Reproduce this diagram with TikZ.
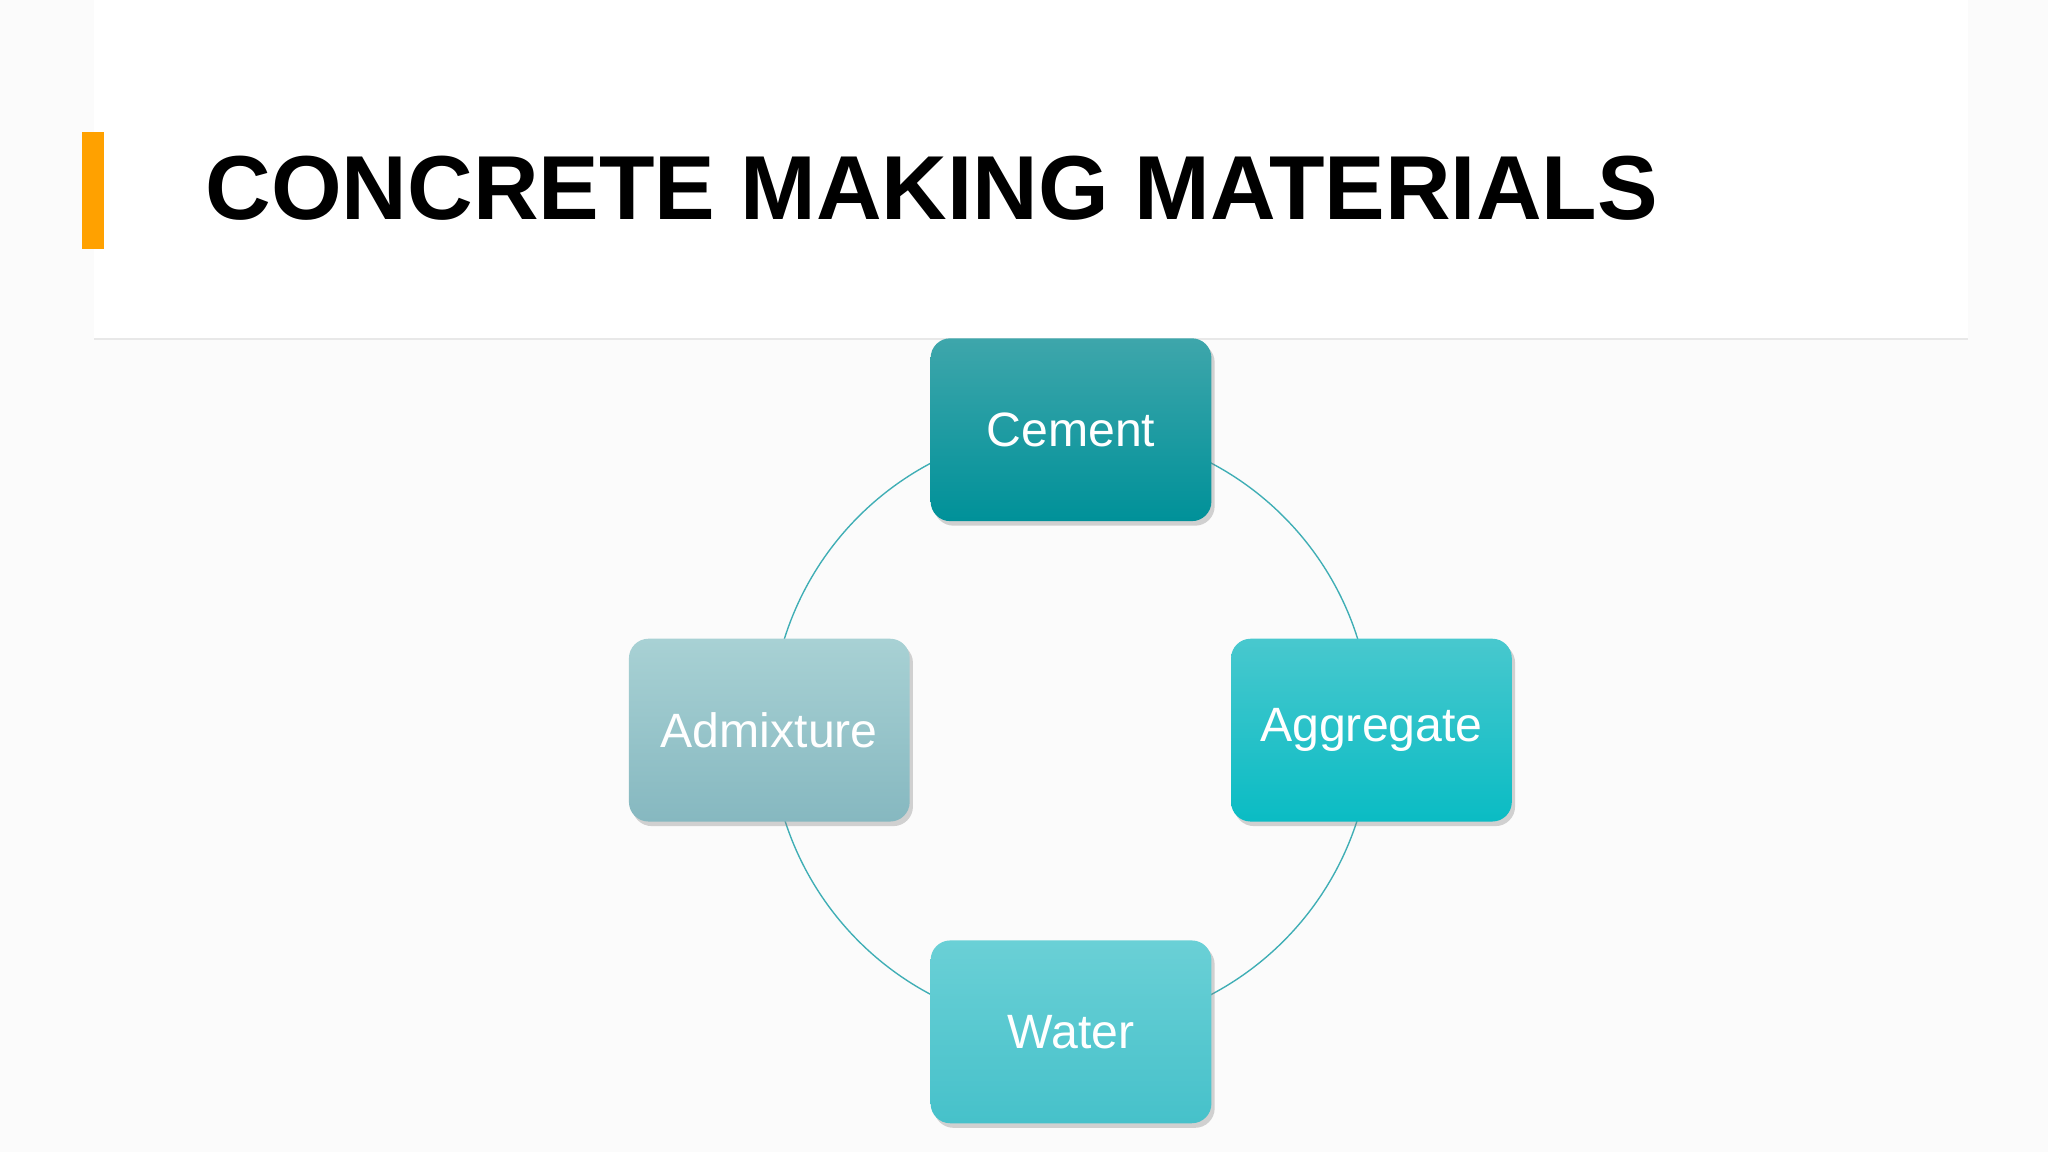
\documentclass[tikz,border=0pt]{standalone}
\usepackage{fontspec}
\setmainfont{Liberation Sans}
\usetikzlibrary{shadows}
\definecolor{ring}{HTML}{3FAEB5}
\tikzset{
 mat/.style={draw=none,rounded corners=0.3cm,minimum width=4.3cm,minimum height=2.8cm,
   text=white,font=\fontsize{21}{25}\selectfont,drop shadow={shadow xshift=0.05cm,shadow yshift=-0.07cm,opacity=0.35}},
}
\begin{document}
\begin{tikzpicture}[x=0.02cm,y=-0.02cm]
\useasboundingbox (0,0) rectangle (1568,882);
\fill[white!97!gray] (0,0) rectangle (1568,882);
\fill[white,drop shadow={shadow xshift=0cm,shadow yshift=-0.03cm,opacity=0.15}] (72,-5) rectangle (1507,259);
\fill[orange!60!yellow!90!red] (63,101) rectangle (80,191);
\node[anchor=base west,inner sep=0,font=\bfseries\fontsize{39.6}{44}\selectfont] (title) at (157,168) {CONCRETE MAKING MATERIALS};
\coordinate (c) at (820,558);
\draw[ring,line width=0.6pt] (c) circle[radius=4.6cm];
\node[mat,top color={rgb,255:red,62;green,166;blue,171},bottom color={rgb,255:red,0;green,145;blue,153}] (cem) at (820,329) {Cement};
\node[mat,top color={rgb,255:red,72;green,200;blue,206},bottom color={rgb,255:red,10;green,188;blue,196}] (agg) at (1050,559) {Aggregate};
\node[mat,top color={rgb,255:red,106;green,208;blue,214},bottom color={rgb,255:red,70;green,193;blue,202}] (wat) at (820,790) {Water};
\node[mat,top color={rgb,255:red,168;green,209;blue,212},bottom color={rgb,255:red,134;green,184;blue,192}] (adm) at (589,559) {Admixture};
\end{tikzpicture}
\end{document}
